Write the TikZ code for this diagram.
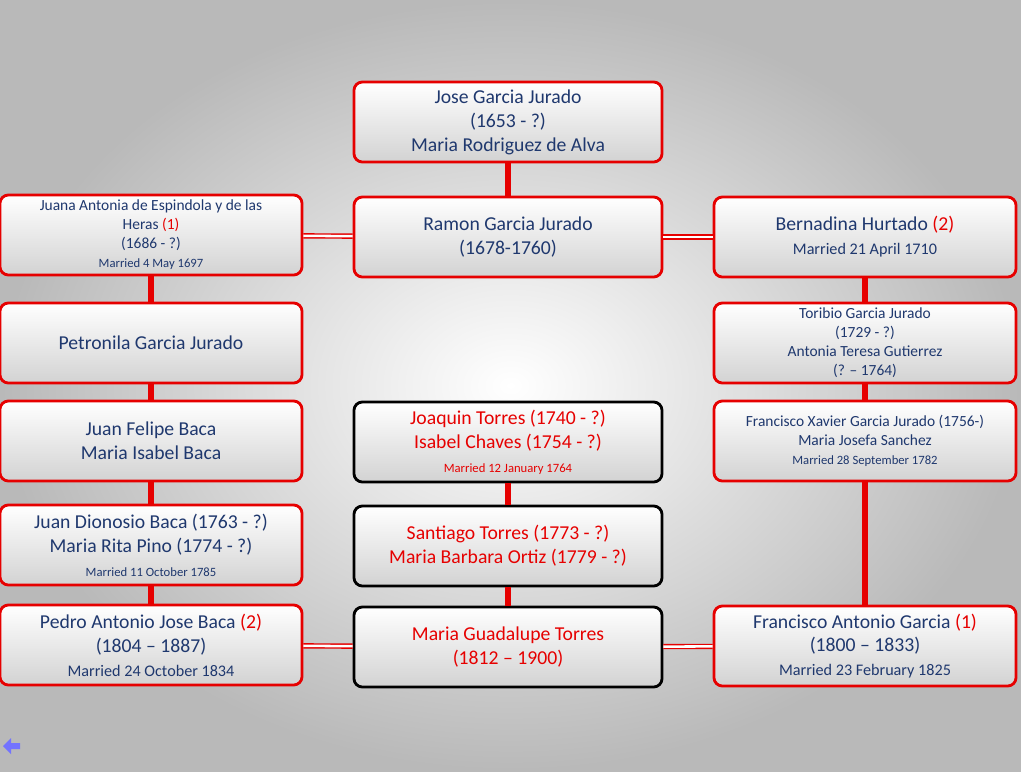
\documentclass[tikz,border=0pt]{standalone}
\usepackage{fontspec}
\setmainfont{Carlito}
\usetikzlibrary{positioning}
\definecolor{namblue}{RGB}{31,56,110}
\definecolor{linered}{RGB}{230,0,0}
\tikzset{
  person/.style={draw=linered, line width=2pt, rounded corners=6pt, top color=white, bottom color=gray!35,
    minimum width=7.7cm, minimum height=2cm, align=center, text=namblue, font=\fontsize{14}{17}\selectfont},
  side/.style={person, minimum width=7.55cm},
  torres/.style={person, draw=black, text=linered},
  line/.style={linered, line width=4pt},
  wed/.style={linered, double=white, double distance=1.8pt, line width=1pt},
  small/.style={font=\fontsize{11}{13.5}\selectfont},
}
\newcommand{\wdate}[1]{{\fontsize{9}{11}\selectfont #1}}
\newcommand{\mdate}[1]{{\fontsize{11.5}{14}\selectfont #1}}
\newcommand{\rd}[1]{\textcolor{linered}{#1}}
\begin{document}
\begin{tikzpicture}[x=0.025cm, y=-0.025cm]
	\shade[inner color=white, outer color=gray!55] (0,0) rectangle (1021,771);
	\useasboundingbox (0,0) rectangle (1021,771);

	% middle column
	\node[person] (jose) at (508,122) {Jose Garcia Jurado\\(1653 - ?)\\Maria Rodriguez de Alva};
	\node[person] (ramon) at (508,237) {Ramon Garcia Jurado\\(1678-1760)};
	\node[torres] (joaquin) at (508,442) {Joaquin Torres (1740 - ?)\\Isabel Chaves (1754 - ?)\\\wdate{Married 12 January 1764}};
	\node[torres] (santiago) at (508,546) {Santiago Torres (1773 - ?)\\Maria Barbara Ortiz (1779 - ?)};
	\node[torres] (guadalupe) at (508,647) {Maria Guadalupe Torres\\(1812 -- 1900)};

	% left column
	\node[side, small] (juana) at (151,235) {Juana Antonia de Espindola y de las\\Heras \rd{(1)}\\(1686 - ?)\\\wdate{Married 4 May 1697}};
	\node[side] (petronila) at (151,343) {Petronila Garcia Jurado};
	\node[side] (felipe) at (151,441) {Juan Felipe Baca\\Maria Isabel Baca};
	\node[side] (dionosio) at (151,545) {Juan Dionosio Baca (1763 - ?)\\Maria Rita Pino (1774 - ?)\\\wdate{Married 11 October 1785}};
	\node[side] (pedro) at (151,645) {Pedro Antonio Jose Baca \rd{(2)}\\(1804 -- 1887)\\\mdate{Married 24 October 1834}};

	% right column
	\node[side] (bernadina) at (865,237) {Bernadina Hurtado \rd{(2)}\\\mdate{Married 21 April 1710}};
	\node[side, small] (toribio) at (865,343) {Toribio Garcia Jurado\\(1729 - ?)\\Antonia Teresa Gutierrez\\(? -- 1764)};
	\node[side, small] (xavier) at (865,441) {Francisco Xavier Garcia Jurado (1756-)\\Maria Josefa Sanchez\\\wdate{Married 28 September 1782}};
	\node[side] (antonio) at (865,646) {Francisco Antonio Garcia \rd{(1)}\\(1800 -- 1833)\\\mdate{Married 23 February 1825}};

	% descent
	\draw[line] (jose) -- (ramon);
	\draw[line] (juana) -- (petronila);
	\draw[line] (petronila) -- (felipe);
	\draw[line] (felipe) -- (dionosio);
	\draw[line] (dionosio) -- (pedro);
	\draw[line] (joaquin) -- (santiago);
	\draw[line] (santiago) -- (guadalupe);
	\draw[line] (bernadina) -- (toribio);
	\draw[line] (toribio) -- (xavier);
	\draw[line] (xavier) -- (antonio);

	% marriages
	\draw[wed] (juana) -- (ramon);
	\draw[wed] (ramon) -- (bernadina);
	\draw[wed] (pedro) -- (guadalupe);
	\draw[wed] (guadalupe) -- (antonio);

	% slide control
	\fill[blue!55] (3,746) -- (11,738) -- (11,743) -- (20,743) -- (20,749) -- (11,749) -- (11,754) -- cycle;
\end{tikzpicture}
\end{document}
